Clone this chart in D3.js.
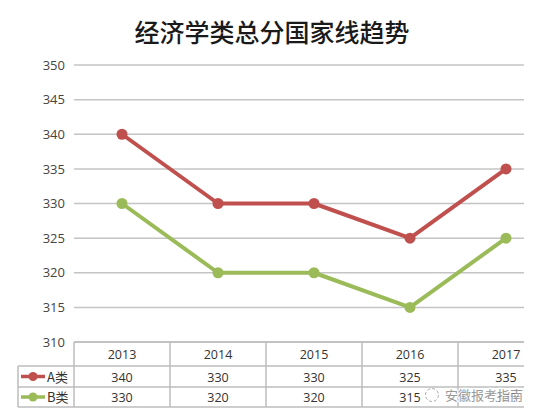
<!DOCTYPE html>
<html>
<head>
<meta charset="utf-8">
<script src="https://cdn.jsdelivr.net/npm/d3@7"></script>
<style>
  body { margin: 0; background: #fff; }
  text { font-family: "Noto Sans CJK SC", "Noto Sans", sans-serif; }
</style>
</head>
<body>
<svg width="541" height="419"></svg>
<script>
var years = ["2013", "2014", "2015", "2016", "2017"];
var seriesNames = ["A类", "B类"];
var seriesA = [340, 330, 330, 325, 335];
var seriesB = [330, 320, 320, 315, 325];
var yTicks = [310, 315, 320, 325, 330, 335, 340, 345, 350];
var colors = ["#c0504d", "#9bbb59"];

var svg = d3.select("svg"),
    plotLeft = 74, plotRight = 524, plotTop = 65, plotBottom = 342,
    rowY = [342, 366, 387, 407],
    legendLeft = 18;

var x = d3.scaleBand().domain(years).range([plotLeft, plotLeft + 96 * years.length]),
    y = d3.scaleLinear().domain([310, 350]).range([plotBottom, plotTop]);

svg.append("defs").append("clipPath")
    .attr("id", "clip")
  .append("rect")
    .attr("x", 0).attr("y", 0)
    .attr("width", plotRight).attr("height", 419);

svg.append("text")
    .attr("x", 272).attr("y", 42)
    .attr("text-anchor", "middle")
    .attr("font-size", 25)
    .attr("font-weight", 500)
    .attr("fill", "#1a1a1a")
    .text("经济学类总分国家线趋势");

// grid
svg.append("g").selectAll("line")
    .data(yTicks)
  .enter().append("line")
    .attr("x1", plotLeft).attr("x2", plotRight)
    .attr("y1", function(d) { return y(d); })
    .attr("y2", function(d) { return y(d); })
    .attr("stroke", "#c4c4c4")
    .attr("stroke-width", 1.5);

var yAxis = d3.axisLeft(y).tickValues(yTicks).tickSize(0).tickPadding(9);
var ga = svg.append("g")
    .attr("transform", "translate(" + plotLeft + ",0)")
    .call(yAxis);
ga.select(".domain").remove();
ga.selectAll("text")
    .attr("font-size", 13)
    .attr("fill", "#444")
    .style("font-family", "'Open Sans', sans-serif");

var plot = svg.append("g").attr("clip-path", "url(#clip)");

var line = d3.line()
    .x(function(d, i) { return x(years[i]) + x.bandwidth() / 2; })
    .y(function(d) { return y(d); });

[seriesA, seriesB].forEach(function(s, k) {
  plot.append("path")
      .datum(s)
      .attr("fill", "none")
      .attr("stroke", colors[k])
      .attr("stroke-width", 4)
      .attr("stroke-linejoin", "round")
      .attr("d", line);
  plot.selectAll(".dot" + k)
      .data(s)
    .enter().append("circle")
      .attr("cx", function(d, i) { return x(years[i]) + x.bandwidth() / 2; })
      .attr("cy", function(d) { return y(d); })
      .attr("r", 5.5)
      .attr("fill", colors[k]);
});

// data table
var table = svg.append("g").attr("clip-path", "url(#clip)");
var tcol = "#bdbdbd";

rowY.forEach(function(yy, i) {
  table.append("line")
      .attr("x1", i === 0 ? plotLeft : legendLeft).attr("x2", plotRight)
      .attr("y1", yy).attr("y2", yy)
      .attr("stroke", tcol).attr("stroke-width", 1.5);
});
table.append("line")
    .attr("x1", legendLeft).attr("x2", legendLeft)
    .attr("y1", rowY[1]).attr("y2", rowY[3])
    .attr("stroke", tcol).attr("stroke-width", 1.5);
years.forEach(function(yr) {
  table.append("line")
      .attr("x1", x(yr)).attr("x2", x(yr))
      .attr("y1", rowY[0]).attr("y2", rowY[3])
      .attr("stroke", tcol).attr("stroke-width", 1.5);
});

table.selectAll(".yr")
    .data(years)
  .enter().append("text")
    .attr("x", function(d) { return x(d) + x.bandwidth() / 2; })
    .attr("y", (rowY[0] + rowY[1]) / 2 + 5)
    .attr("text-anchor", "middle")
    .attr("font-size", 12.5)
    .attr("fill", "#333")
    .style("font-family", "'Open Sans', sans-serif")
    .text(function(d) { return d; });

[seriesA, seriesB].forEach(function(s, k) {
  var cy = (rowY[k + 1] + rowY[k + 2]) / 2;
  table.selectAll(".v" + k)
      .data(s)
    .enter().append("text")
      .attr("x", function(d, i) { return x(years[i]) + x.bandwidth() / 2; })
      .attr("y", cy + 5)
      .attr("text-anchor", "middle")
      .attr("font-size", 12.5)
      .attr("fill", "#333")
      .style("font-family", "'Open Sans', sans-serif")
      .text(function(d) { return d; });
  table.append("line")
      .attr("x1", legendLeft + 3).attr("x2", legendLeft + 27)
      .attr("y1", cy).attr("y2", cy)
      .attr("stroke", colors[k]).attr("stroke-width", 3.5);
  table.append("circle")
      .attr("cx", legendLeft + 15).attr("cy", cy)
      .attr("r", 4.5).attr("fill", colors[k]);
  table.append("text")
      .attr("x", legendLeft + 29).attr("y", cy + 5)
      .attr("font-size", 13)
      .attr("fill", "#333")
      .text(seriesNames[k]);
});

// watermark
var wm = svg.append("g").attr("opacity", 0.85);
wm.append("circle")
    .attr("cx", 432).attr("cy", 395).attr("r", 6.5)
    .attr("fill", "#fff").attr("stroke", "#999")
    .attr("stroke-width", 1).attr("stroke-dasharray", "3,2");
wm.append("text")
    .attr("x", 445).attr("y", 400)
    .attr("font-size", 13)
    .attr("fill", "#888")
    .attr("stroke", "#fff").attr("stroke-width", 2.5)
    .attr("paint-order", "stroke")
    .text("安徽报考指南");
</script>
</body>
</html>
